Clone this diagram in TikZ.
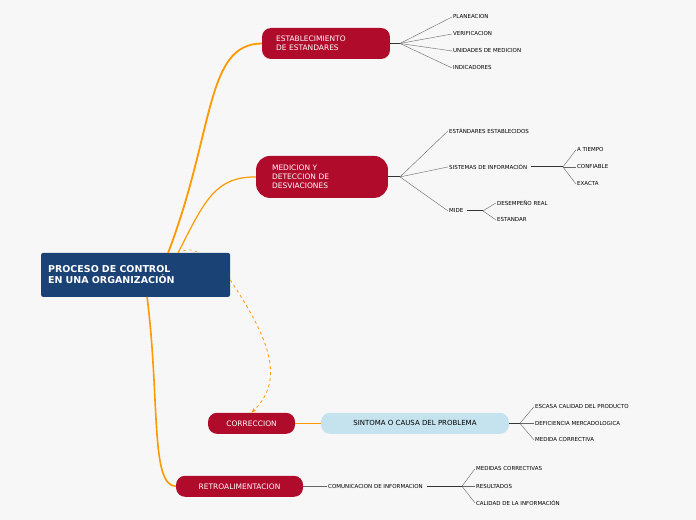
\documentclass[tikz,border=0pt]{standalone}
\usepackage{fontspec}
\setmainfont{DejaVu Sans}
\usetikzlibrary{arrows.meta}
\definecolor{crim}{HTML}{B00B2B}
\definecolor{navy}{HTML}{1B4275}
\definecolor{lblue}{HTML}{C5E3EF}
\definecolor{orng}{HTML}{FF9900}
\definecolor{bg}{HTML}{F7F7F7}
\tikzset{
 main/.style={fill=crim,text=white,rounded corners=9pt,font=\fontsize{7.5}{9}\selectfont,inner sep=0pt,align=left},
 leaf/.style={anchor=west,font=\fontsize{5.5}{6}\selectfont,inner sep=1pt},
 br/.style={orng,line width=1.2pt},
 tw/.style={gray!80!black,line width=0.4pt},
 jn/.style={black!80,line width=0.9pt}
}
\begin{document}
\begin{tikzpicture}[x=1pt,y=-1pt]
\fill[bg] (0,0) rectangle (696,520);
\foreach \yy in {8,16,...,520} \draw[white!93!gray,line width=0.3pt] (0,\yy)--(696,\yy);
\node[fill=navy,rounded corners=2pt,text=white,font=\bfseries\fontsize{9.5}{11}\selectfont,align=left,minimum width=189pt,minimum height=44pt,text width=175pt] (c) at (135.5,275) {PROCESO DE CONTROL\\EN UNA ORGANIZACIÓN};
\node[main,minimum width=128pt,minimum height=31pt,text width=100pt] (e) at (326,43.5) {ESTABLECIMIENTO\\DE ESTANDARES};
\node[main,minimum width=132pt,minimum height=42pt,text width=100pt,rounded corners=14pt] (m) at (322,177) {MEDICION Y\\DETECCION DE\\DESVIACIONES};
\node[main,minimum width=87pt,minimum height=21pt,align=center] (co) at (251.5,423.5) {CORRECCION};
\node[main,minimum width=127pt,minimum height=21pt,align=center] (r) at (239.5,486.5) {RETROALIMENTACION};
\node[fill=lblue,rounded corners=9pt,minimum width=188pt,minimum height=21pt,inner sep=0pt,font=\fontsize{7}{8}\selectfont] (s) at (415,423.5) {SINTOMA O CAUSA DEL PROBLEMA};
% branches
\draw[br,line width=1.8pt] (168,253) .. controls (215,130) and (205,44) .. (e.west);
\draw[br] (178,253) .. controls (205,200) and (215,177) .. (m.west);
\draw[br,line width=1.6pt] (147,297) .. controls (160,400) and (150,486) .. (r.west);
\draw[orng,line width=0.8pt] (s.west) -- (co.east);
\draw[orng,dashed,line width=0.8pt,-{Stealth[length=5pt]}] (c.east) ++(0,5) .. controls (270,340) and (285,380) .. (co.north);
\draw[orng,dashed,line width=0.6pt] (183,251) .. controls (188,249) and (193,250) .. (197,252);
% EST leaves
\coordinate (ej) at (400,43.5);
\draw[jn] (e.east)--(ej);
\foreach \y/\t [count=\i] in {17/PLANEACION,34/VERIFICACION,51/UNIDADES DE MEDICION,68/INDICADORES}{
 \node[leaf] (n\i) at (452,\y) {\t}; \draw[tw] (ej)--(n\i.west);}
% MED leaves
\coordinate (mj) at (400,177);
\draw[jn] (m.east)--(mj);
\node[leaf] (m1) at (448,131) {ESTÁNDARES ESTABLECIDOS};
\node[leaf] (m2) at (448,167) {SISTEMAS DE INFORMACIÓN};
\node[leaf] (m3) at (448,211) {MIDE};
\foreach \k in {m1,m2,m3} \draw[tw] (mj)--(\k.west);
\coordinate (sj) at (563,167);
\draw[jn] (m2.east)++(3,0)--(sj);
\foreach \y/\t [count=\i] in {150/A TIEMPO,167/CONFIABLE,184/EXACTA}{
 \node[leaf] (a\i) at (576,\y) {\t}; \draw[tw] (sj)--(a\i.west);}
\coordinate (dj) at (483,211);
\draw[jn] (m3.east)++(3,0)--(dj);
\foreach \y/\t [count=\i] in {203/DESEMPEÑO REAL,220/ESTANDAR}{
 \node[leaf] (d\i) at (496,\y) {\t}; \draw[tw] (dj)--(d\i.west);}
% SINTOMA leaves
\coordinate (xj) at (520,423.5);
\draw[jn] (s.east)--(xj);
\foreach \y/\t [count=\i] in {407/ESCASA CALIDAD DEL PRODUCTO,423.5/DEFICIENCIA MERCADOLOGICA,440/MEDIDA CORRECTIVA}{
 \node[leaf] (x\i) at (534,\y) {\t}; \draw[tw] (xj)--(x\i.west);}
% RETRO leaves
\node[leaf] (ci) at (327,486.5) {COMUNICACION DE INFORMACION};
\draw[tw,line width=0.8pt] (r.east)--(ci.west);
\coordinate (rj) at (462,486.5);
\draw[jn] (ci.east)++(3,0)--(rj);
\foreach \y/\t [count=\i] in {469/MEDIDAS CORRECTIVAS,486.5/RESULTADOS,503/CALIDAD DE LA INFORMACIÓN}{
 \node[leaf] (q\i) at (475,\y) {\t}; \draw[tw] (rj)--(q\i.west);}
\end{tikzpicture}
\end{document}
